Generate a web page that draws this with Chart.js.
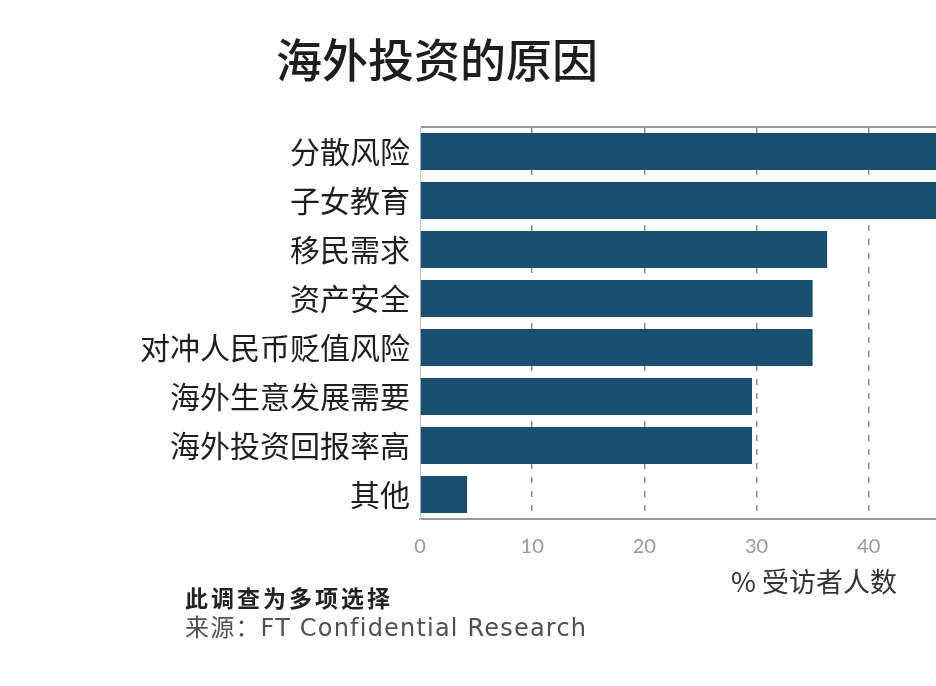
<!DOCTYPE html>
<html>
<head>
<meta charset="utf-8">
<script src="https://cdn.jsdelivr.net/npm/chart.js@4/dist/chart.umd.min.js"></script>
<style>
  body { margin: 0; background: #fff; font-family: "Noto Sans CJK SC", "Noto Sans", sans-serif; }
  #wrap { position: relative; width: 936px; height: 686px; overflow: hidden; }
  canvas { position: absolute; left: 0; top: 0; }
  .txt { position: absolute; line-height: 1; white-space: nowrap; }
</style>
</head>
<body>
<div id="wrap">
  <canvas id="myChart" width="936" height="686"></canvas>
  <div class="txt" style="left:276px; top:34px; font-size:46px; font-weight:500; color:#1e1e1e;">海外投资的原因</div>
  <div class="txt" style="left:731px; top:567px; font-size:27px; color:#333;">% 受访者人数</div>
  <div class="txt" style="left:185px; top:586px; font-size:23px; font-weight:bold; letter-spacing:3px; color:#222;">此调查为多项选择</div>
  <div class="txt" style="left:185px; top:616px; font-size:24px; letter-spacing:1.2px; color:#505050; font-family:'DejaVu Sans','Noto Sans CJK SC',sans-serif;">来源：FT Confidential Research</div>
</div>
<script>
const categories = ['分散风险', '子女教育', '移民需求', '资产安全', '对冲人民币贬值风险', '海外生意发展需要', '海外投资回报率高', '其他'];
const shares = [52, 50, 36.3, 35, 35, 29.6, 29.6, 4.2];
const tickValues = [0, 10, 20, 30, 40];

document.addEventListener('DOMContentLoaded', () => {
    const ctx = document.getElementById('myChart').getContext('2d');
    new Chart(ctx, {
        type: 'bar',
        data: {
            labels: categories,
            datasets: [{
                data: shares,
                backgroundColor: '#1a4f6f',
                borderWidth: 0,
                barPercentage: 0.76,
                categoryPercentage: 1
            }]
        },
        options: {
            indexAxis: 'y',
            responsive: false,
            animation: false,
            layout: { padding: { top: 127, right: 0, bottom: 0, left: 0 } },
            plugins: {
                legend: { display: false },
                tooltip: { enabled: false }
            },
            scales: {
                x: {
                    min: 0,
                    max: 46,
                    afterFit: scale => { scale.height = 167; },
                    afterBuildTicks: scale => {
                        scale.ticks = tickValues.map(v => ({ value: v }));
                    },
                    border: { display: true, color: '#9a9a9a', width: 2, dash: [6, 8] },
                    grid: {
                        drawTicks: false,
                        color: c => c.tick && c.tick.value === 0 ? 'transparent' : '#8a8a8a',
                        lineWidth: 1.5
                    },
                    ticks: {
                        padding: 16,
                        color: '#999',
                        font: { family: 'Lato, "Noto Sans", sans-serif', size: 20 }
                    }
                },
                y: {
                    afterFit: scale => { scale.width = 420; },
                    border: { display: true, color: '#c8c8c8', width: 1 },
                    grid: {
                        drawTicks: false,
                        color: c => c.index === 0 || c.index === categories.length ? '#9a9a9a' : 'transparent',
                        lineWidth: 2
                    },
                    ticks: {
                        padding: 10,
                        color: '#1e1e1e',
                        font: { family: '"Noto Sans CJK SC", sans-serif', size: 30 }
                    }
                }
            }
        }
    });
});
</script>
</body>
</html>
